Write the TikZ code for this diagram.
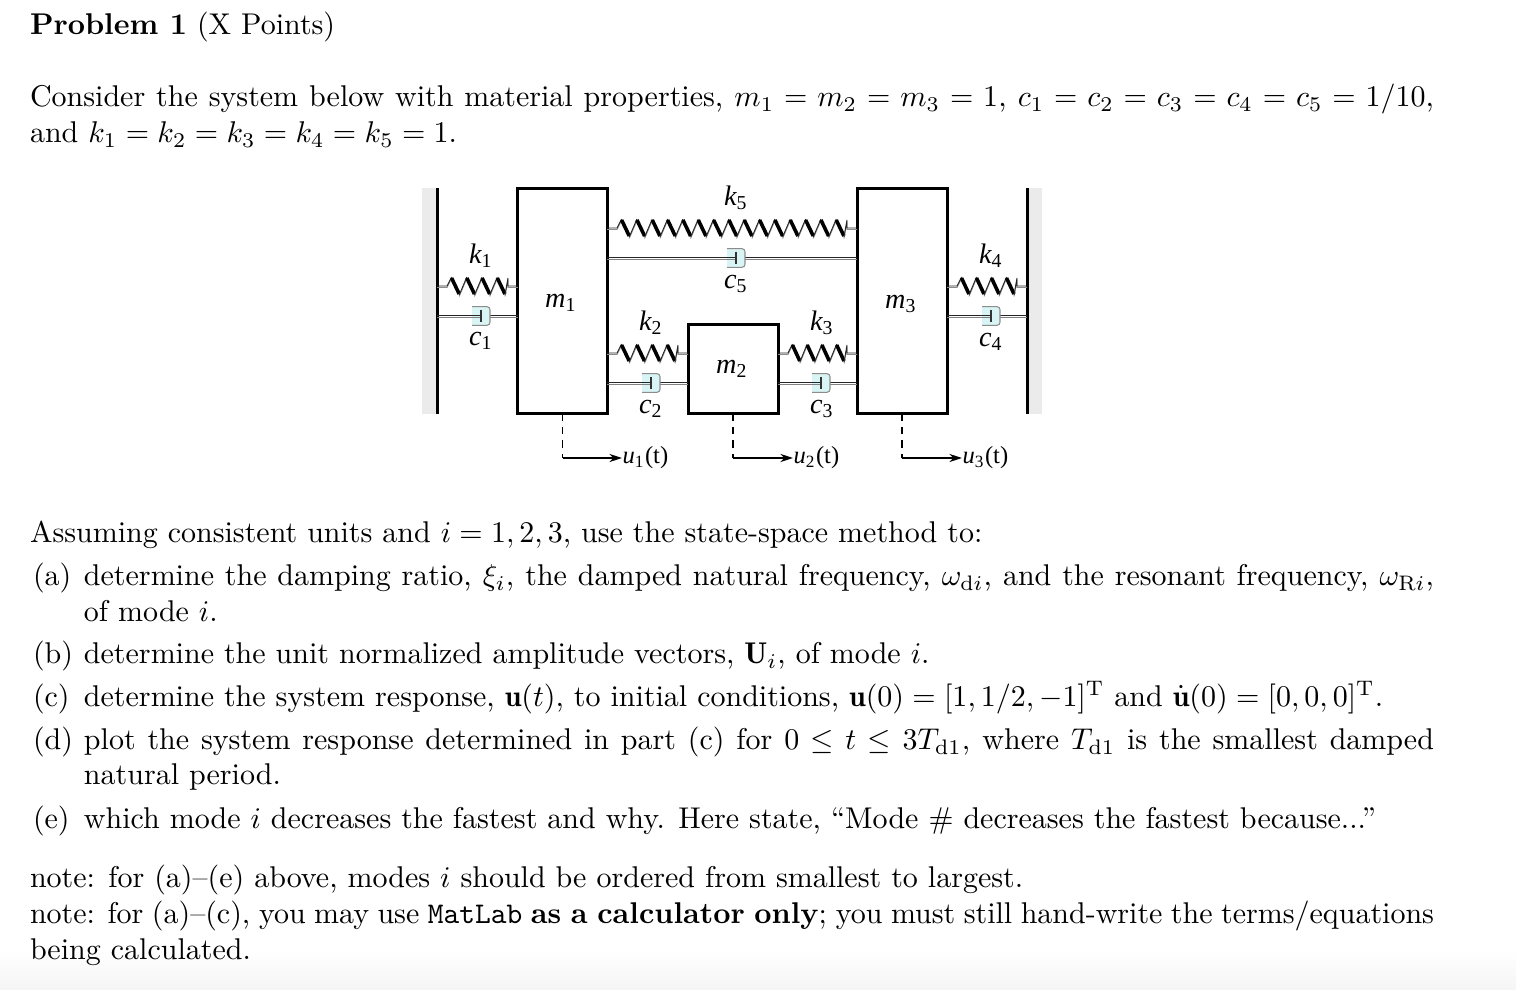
\documentclass[tikz,border=0pt]{standalone}
\usepackage{xcolor}
\usepackage{amsmath}
\usepackage{amssymb}
\usepackage{fontspec}
\usepackage{tikz}
\usetikzlibrary{calc,arrows.meta}
\newfontfamily\figfont{Liberation Serif}
\definecolor{wallgray}{HTML}{EBEBEB}
\definecolor{cupcyan}{HTML}{D8F4F4}
\newcommand{\jline}[2]{\makebox[#1][s]{#2}}
\newcommand{\figlabel}[2]{{\figfont\fontsize{9.4}{11}\selectfont\itshape #1\textsubscript{\upshape #2}}}
\newcommand{\ulabel}[1]{{\figfont\fontsize{8.2}{10}\selectfont\itshape u\textsubscript{\upshape #1}\upshape (t)}}
\tikzset{
    txt/.style={anchor=base west,inner sep=0pt,outer sep=0pt},
    mass/.style={draw=black,line width=1pt,fill=white,inner sep=0pt,outer sep=0pt},
    wall/.style={fill=wallgray,minimum width=5pt,minimum height=75.33pt,inner sep=0pt,outer sep=0pt},
    wallline/.style={draw=black,line width=1pt},
    coilthin/.style={draw=black!85,line width=.3pt,preaction={draw=black!45,line width=.3pt,transform canvas={yshift=-.5pt}}},
    rod/.style={draw=black!85,line width=.3pt},
    rodlow/.style={draw=black!50,line width=.4pt},
    thickcoil/.style={draw=black,line width=1.2pt},
    cup/.style={fill=cupcyan,minimum width=6pt,minimum height=6.2pt,inner sep=0pt,outer sep=0pt},
    cupline/.style={draw=black!45,line width=.35pt,rounded corners=1pt},
    piston/.style={draw=black!80,line width=.4pt},
    dashline/.style={draw=black,line width=.35pt,dashed,dash pattern=on 2.5pt off 2pt},
    motion/.style={draw=black,line width=.4pt,-{Stealth[length=4.2pt,width=2.7pt]}},
}
% spring between two named points: from, to, teeth
\newcommand{\springlink}[3]{
    \coordinate (sa) at ($(#1)+(10,0)$);
    \coordinate (sb) at ($(#2)+(-10,0)$);
    \draw[coilthin] (#1) -- (sa) -- ($(sa)!{.3/#3}!(sb)+(0,-9)$);
    \foreach \i in {1,...,#3}{
        \draw[thickcoil] ($(sa)!{(\i-.7)/#3}!(sb)+(0,-8)$) -- ($(sa)!{(\i-.2)/#3}!(sb)+(0,8)$);
        \ifnum\i<#3
            \draw[coilthin] ($(sa)!{(\i-.2)/#3}!(sb)+(0,9)$) -- ($(sa)!{(\i+.3)/#3}!(sb)+(0,-9)$);
        \fi
    }
    \draw[coilthin] ($(sa)!{(#3-.2)/#3}!(sb)+(0,9)$) -- ($(sb)+(0,-8)$) -- (sb) -- (#2);
}
% dashpot between two named points: from, cup node, to
\newcommand{\damperlink}[3]{
    \draw[rod] ($(#1)+(0,-.7)$) -- ($(#2.center)+(0,-.7)$);
    \draw[rodlow] ($(#1)+(0,1.2)$) -- ($(#2.center)+(0,1.2)$);
    \draw[rod] ($(#2.east)+(0,-.7)$) -- ($(#3)+(0,-.7)$);
    \draw[rodlow] ($(#2.east)+(0,1.2)$) -- ($(#3)+(0,1.2)$);
    \draw[piston] ($(#2.center)+(0,-6)$) -- ($(#2.center)+(0,6)$);
    \draw[cupline] (#2.north west) -- (#2.north east) -- (#2.south east) -- (#2.south west);
}
\begin{document}
\begin{tikzpicture}[x=.33333pt,y=-.33333pt]
    \useasboundingbox (0,0) rectangle (1516,990);
    \shade[top color=white,bottom color=black!4] (0,950) rectangle (1516,990);

    % text above the figure
    \node[txt] (title) at (30,35) {\textbf{Problem 1} (X Points)};
    \node[txt] (line1) at (30,107) {\jline{468pt}{Consider the system below with material properties, $m_1=m_2=m_3=1$, $c_1=c_2=c_3=c_4=c_5=1/10$,}};
    \node[txt] (line2) at (30,143) {and $k_1=k_2=k_3=k_4=k_5=1$.};

    % walls and masses
    \node[wall] (wallL) at (429.5,301) {};
    \node[wall] (wallR) at (1034.5,301) {};
    \draw[wallline] (wallL.north east) -- (wallL.south east);
    \draw[wallline] (wallR.north west) -- (wallR.south west);
    \node[mass,minimum width=29.67pt,minimum height=75pt] (m1) at (562.5,301) {};
    \node[mass,minimum width=30pt,minimum height=29.83pt] (m2) at (733,368.75) {};
    \node[mass,minimum width=30pt,minimum height=75pt] (m3) at (902,301) {};

    % attachment points
    \coordinate (k1a) at (wallL.east |- 0,286);
    \coordinate (k1b) at (m1.west |- 0,286);
    \coordinate (c1a) at (wallL.east |- 0,316);
    \coordinate (c1b) at (m1.west |- 0,316);
    \coordinate (k2a) at (m1.east |- 0,353);
    \coordinate (k2b) at (m2.west |- 0,353);
    \coordinate (c2a) at (m1.east |- 0,383);
    \coordinate (c2b) at (m2.west |- 0,383);
    \coordinate (k3a) at (m2.east |- 0,353);
    \coordinate (k3b) at (m3.west |- 0,353);
    \coordinate (c3a) at (m2.east |- 0,383);
    \coordinate (c3b) at (m3.west |- 0,383);
    \coordinate (k4a) at (m3.east |- 0,286);
    \coordinate (k4b) at (wallR.west |- 0,286);
    \coordinate (c4a) at (m3.east |- 0,316);
    \coordinate (c4b) at (wallR.west |- 0,316);
    \coordinate (k5a) at (m1.east |- 0,228);
    \coordinate (k5b) at (m3.west |- 0,228);
    \coordinate (c5a) at (m1.east |- 0,258);
    \coordinate (c5b) at (m3.west |- 0,258);

    % springs
    \foreach \a/\b/\n in {k1a/k1b/4,k2a/k2b/4,k3a/k3b/4,k4a/k4b/4,k5a/k5b/15}{
        \springlink{\a}{\b}{\n}
    }

    % dashpots
    \node[cup] (pot1) at (481,316) {};
    \node[cup] (pot2) at (651,383) {};
    \node[cup] (pot3) at (821,383) {};
    \node[cup] (pot4) at (991,316) {};
    \node[cup] (pot5) at (736,258) {};
    \damperlink{c1a}{pot1}{c1b}
    \damperlink{c2a}{pot2}{c2b}
    \damperlink{c3a}{pot3}{c3b}
    \damperlink{c4a}{pot4}{c4b}
    \damperlink{c5a}{pot5}{c5b}

    % labels
    \node (labm1) at (561,303) {\figlabel{m}{1}};
    \node (labm2) at (732,369) {\figlabel{m}{2}};
    \node (labm3) at (901,304) {\figlabel{m}{3}};
    \node (labk1) at (481,256) {\figlabel{k}{1}};
    \node (labk2) at (651,323) {\figlabel{k}{2}};
    \node (labk3) at (822,323) {\figlabel{k}{3}};
    \node (labk4) at (991,256) {\figlabel{k}{4}};
    \node (labk5) at (736,198) {\figlabel{k}{5}};
    \node (labc1) at (481,341) {\figlabel{c}{1}};
    \node (labc2) at (651,409) {\figlabel{c}{2}};
    \node (labc3) at (822,409) {\figlabel{c}{3}};
    \node (labc4) at (991,342) {\figlabel{c}{4}};
    \node (labc5) at (736,284) {\figlabel{c}{5}};

    % displacements
    \node[anchor=west,inner sep=0pt] (u1) at (622,458) {\ulabel{1}};
    \node[anchor=west,inner sep=0pt] (u2) at (793,458) {\ulabel{2}};
    \node[anchor=west,inner sep=0pt] (u3) at (962,458) {\ulabel{3}};
    \foreach \m/\u in {m1/u1,m2/u2,m3/u3}{
        \coordinate (\m c) at (\m.south |- \u.west);
        \draw[dashline] (\m.south) -- (\m c);
        \draw[motion] (\m c) -- (\u.west);
    }

    % text below the figure
    \node[txt] (line3) at (30,543) {Assuming consistent units and $i=1,2,3$, use the state-space method to:};
    \node[txt] (itema) at (33,586) {(a)};
    \node[txt] (linea) at (84,586) {\jline{450pt}{determine the damping ratio, $\xi_i$, the damped natural frequency, $\omega_{\mathrm{d}i}$, and the resonant frequency, $\omega_{\mathrm{R}i}$,}};
    \node[txt] (lineb) at (84,622) {of mode $i$.};
    \node[txt] (itemb) at (33,664) {(b)};
    \node[txt] (linec) at (84,664) {determine the unit normalized amplitude vectors, $\mathbf{U}_i$, of mode $i$.};
    \node[txt] (itemc) at (33,706) {(c)};
    \node[txt] (lined) at (84,706) {determine the system response, $\mathbf{u}(t)$, to initial conditions, $\mathbf{u}(0)=[1,1/2,-1]^{\mathrm{T}}$ and $\dot{\mathbf{u}}(0)=[0,0,0]^{\mathrm{T}}$.};
    \node[txt] (itemd) at (33,750) {(d)};
    \node[txt] (linee) at (84,750) {\jline{450pt}{plot the system response determined in part (c) for $0\leq t\leq 3T_{\mathrm{d}1}$, where $T_{\mathrm{d}1}$ is the smallest damped}};
    \node[txt] (linef) at (84,785) {natural period.};
    \node[txt] (iteme) at (33,828) {(e)};
    \node[txt] (lineg) at (84,828) {which mode $i$ decreases the fastest and why. Here state, ``Mode \# decreases the fastest because...''};
    \node[txt] (note1) at (30,887) {note: for (a)--(e) above, modes $i$ should be ordered from smallest to largest.};
    \node[txt] (note2) at (30,923) {\jline{468pt}{note: for (a)--(c), you may use \texttt{MatLab} \textbf{as a calculator only}; you must still hand-write the terms/equations}};
    \node[txt] (note3) at (30,959) {being calculated.};
\end{tikzpicture}
\end{document}
